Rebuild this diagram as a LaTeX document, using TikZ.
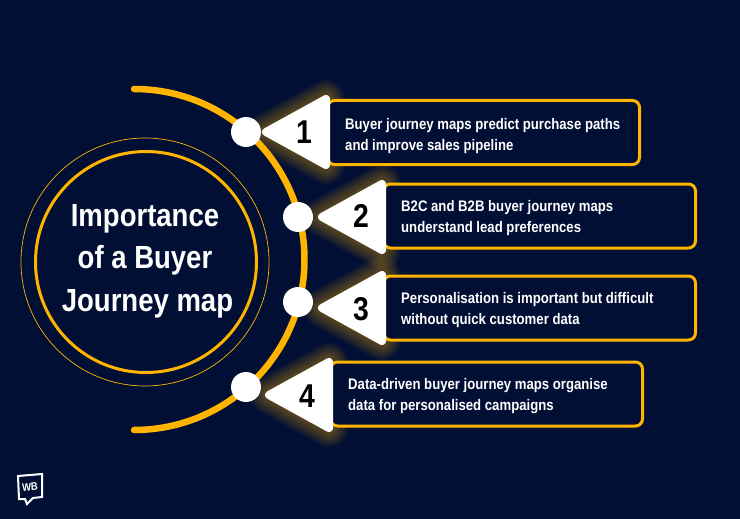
\documentclass[tikz,border=0pt]{standalone}
\usepackage{fontspec}
\setmainfont{Liberation Sans}[FakeStretch=0.86]
\usetikzlibrary{positioning}
\definecolor{navy}{HTML}{020F35}
\definecolor{amber}{HTML}{FFB400}

\begin{document}
\begin{tikzpicture}[x=1pt,y=-1pt]
		% Define node styles
		\tikzstyle{dot} = [circle, fill=white, inner sep=0pt, minimum size=30pt];
		\tikzstyle{card} = [draw=amber, line width=3pt, rounded corners=7pt, fill=navy, minimum width=312pt, minimum height=64pt, anchor=west, inner sep=0pt];
		\tikzstyle{point} = [fill=white, draw=white, line width=8pt, line join=round];
		\tikzstyle{number} = [font=\bfseries\fontsize{33}{33}\selectfont, text=black];
		\tikzstyle{label} = [font=\bfseries\fontsize{15.3}{21}\selectfont, text=white, align=left, anchor=west, inner sep=0pt];
		\tikzstyle{heading} = [font=\bfseries\fontsize{32}{42.5}\selectfont, text=white, align=center];
		
		% Background
		\fill[navy] (0,0) rectangle (740,519);
		\useasboundingbox (0,0) rectangle (740,519);
		
		% Centre circles
		\node[circle, draw=amber, line width=0.7pt, minimum size=248pt, inner sep=0pt] (outer) at (145,262) {};
		\node[circle, draw=amber, line width=3pt, minimum size=221pt, inner sep=0pt] (inner) at (146,262) {};
		\node[heading] (title) at (145,261) {Importance\\of a Buyer\\\hspace*{5pt}Journey map};
		
		% Main arc
		\draw[amber, line width=6.5pt, line cap=round] (134,430) arc (90:-90:170.5);
		
		% Glow behind the triangles
		\foreach \tipx/\tipy/\backx in {266/132/326, 322/217/382, 322/308/382, 269/395/329} {
			\foreach \w in {10,14,...,38} {
				\draw[amber, opacity=0.05, fill, line width=\w pt, line join=round]
					(\tipx,\tipy) -- (\backx,\tipy-33) -- (\backx,\tipy+33) -- cycle;
			}
		}
		
		% Cards
		\node[card] (card1) at (326,132.5) {};
		\node[card] (card2) at (382,216) {};
		\node[card] (card3) at (382,308) {};
		\node[card] (card4) at (329,394) {};
		
		% Triangles
		\foreach \tipx/\tipy/\backx in {266/132/326, 322/217/382, 322/308/382, 269/395/329} {
			\draw[point] (\tipx,\tipy) -- (\backx,\tipy-33) -- (\backx,\tipy+33) -- cycle;
		}
		
		% Dots on the arc
		\node[dot] (dot1) at (246,132) {};
		\node[dot] (dot2) at (298,217) {};
		\node[dot] (dot3) at (298,302) {};
		\node[dot] (dot4) at (246,387) {};
		
		% Numbers
		\node[number] (num1) at (304,132) {1};
		\node[number] (num2) at (361,216) {2};
		\node[number] (num3) at (361,309) {3};
		\node[number] (num4) at (307,396) {4};
		
		% Labels
		\node[label] (text1) at (345,136.5) {Buyer journey maps predict purchase paths\\and improve sales pipeline};
		\node[label] (text2) at (401,218.5) {B2C and B2B buyer journey maps\\understand lead preferences};
		\node[label] (text3) at (401,310.5) {Personalisation is important but difficult\\without quick customer data};
		\node[label] (text4) at (348,396.5) {Data-driven buyer journey maps organise\\data for personalised campaigns};
		
		% Logo
		\draw[white, line width=2pt, line join=miter, fill=navy] (18,476) -- (42,474) -- (42,497) -- (33,498) -- (27,504) -- (25,499) -- (19,499) -- cycle;
		\node[font=\bfseries\fontsize{11}{11}\selectfont, text=white, inner sep=0pt, rotate=3] (logo) at (30,487) {WB};
	\end{tikzpicture}
\end{document}
